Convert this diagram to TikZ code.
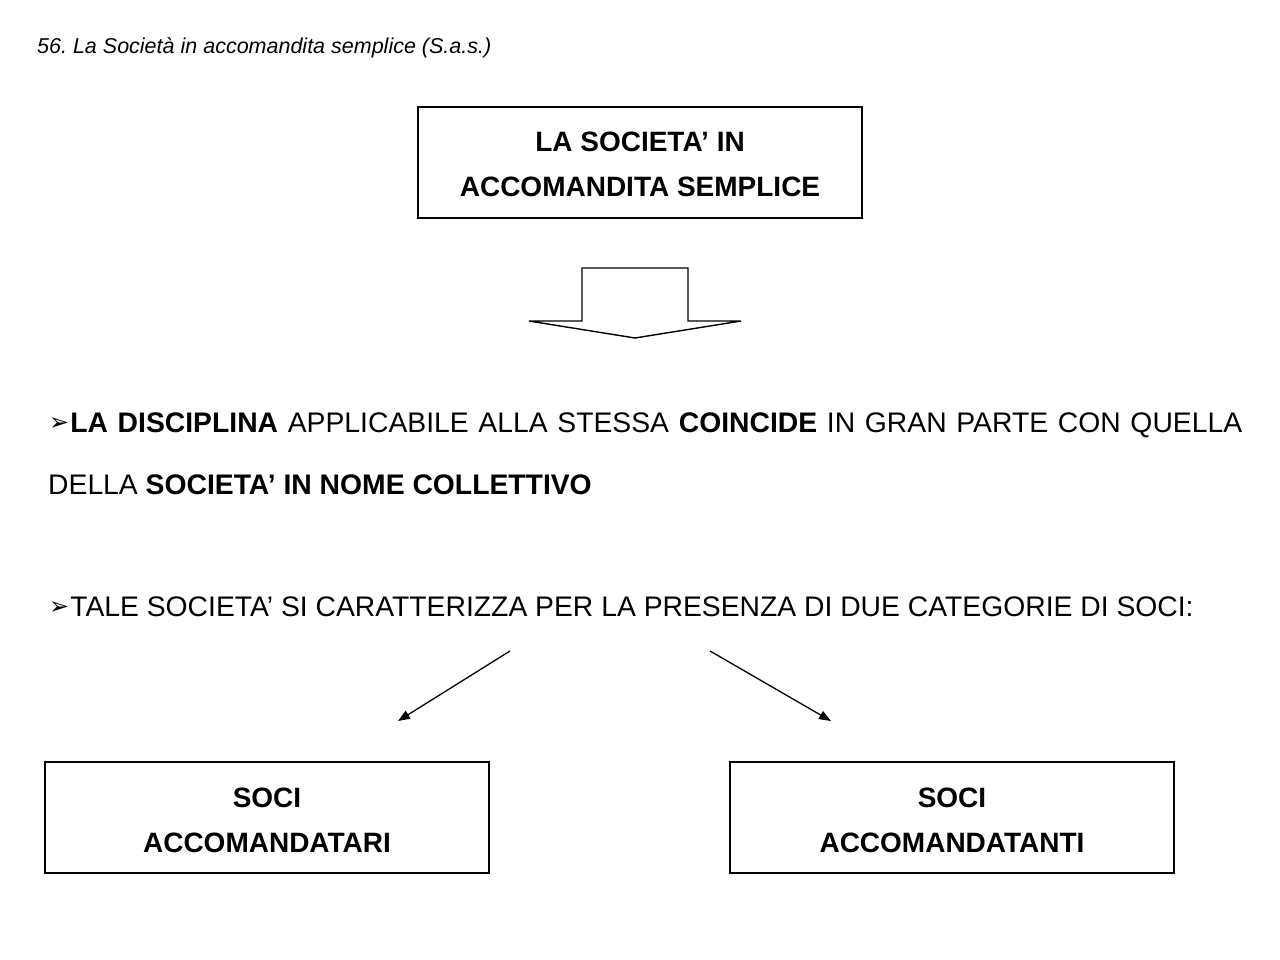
\documentclass[tikz,border=0pt]{standalone}
\usepackage{fontspec}
\setmainfont{Liberation Sans}
\newfontfamily\bulfont{DejaVu Sans}
\usetikzlibrary{arrows.meta}
\newcommand{\bul}{\raisebox{1.5pt}{\bulfont\fontsize{24}{26}\selectfont ➢}\kern1pt}
\tikzset{
  box/.style={draw, line width=1.4pt, minimum width=444pt, minimum height=111pt, inner sep=0pt},
  txt/.style={inner sep=0pt, anchor=base west, font=\fontsize{28.3}{34}\selectfont},
  btxt/.style={inner sep=0pt, anchor=base, font=\bfseries\fontsize{28}{34}\selectfont},
  conn/.style={line width=1.3pt, -{Triangle[length=12pt,width=9pt]}},
}
\begin{document}
\frenchspacing
\begin{tikzpicture}[x=1pt,y=-1pt]
\useasboundingbox (0,0) rectangle (1280,960);
\node[inner sep=0pt, anchor=base west, font=\itshape\fontsize{21.5}{25}\selectfont] (title) at (37,54) {56. La Società in accomandita semplice (S.a.s.)};
% top box
\node[box] (top) at (640,162.5) {};
\node[btxt] (t1) at (640,152) {LA SOCIETA’ IN};
\node[btxt] (t2) at (640,197) {ACCOMANDITA SEMPLICE};
% block arrow
\draw[line width=1.4pt, line join=miter] (582,268) -- (688,268) -- (688,321) -- (741,321) -- (635,338) -- (529,321) -- (582,321) -- cycle;
% paragraph
\node[txt] (p1) at (49,432) {\makebox[1193pt][s]{\bul\textbf{LA DISCIPLINA} APPLICABILE ALLA STESSA \textbf{COINCIDE} IN GRAN PARTE CON QUELLA}};
\node[txt] (p2) at (48,494) {DELLA \textbf{SOCIETA’ IN NOME COLLETTIVO}};
\node[txt] (p3) at (49,616) {\bul TALE SOCIETA’ SI CARATTERIZZA PER LA PRESENZA DI DUE CATEGORIE DI SOCI:};
% connectors
\coordinate (a1s) at (510,651);
\coordinate (a1e) at (398,721);
\coordinate (a2s) at (710,651);
\coordinate (a2e) at (831,721);
\draw[conn] (a1s) -- (a1e);
\draw[conn] (a2s) -- (a2e);
% bottom boxes
\node[box] (left) at (267,817.5) {};
\node[btxt] (l1) at (267,807) {SOCI};
\node[btxt] (l2) at (267,852) {ACCOMANDATARI};
\node[box] (right) at (952,817.5) {};
\node[btxt] (r1) at (952,807) {SOCI};
\node[btxt] (r2) at (952,852) {ACCOMANDATANTI};
\end{tikzpicture}
\end{document}
